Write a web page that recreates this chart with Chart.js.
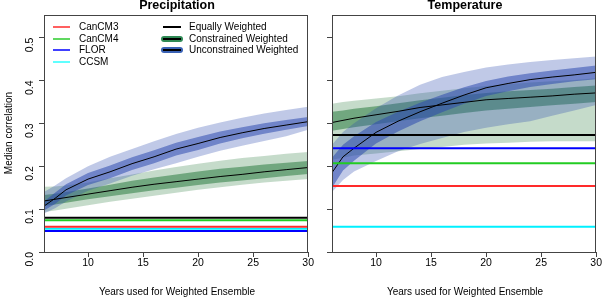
<!DOCTYPE html>
<html>
<head>
<meta charset="utf-8">
<script src="https://cdn.jsdelivr.net/npm/chart.js@4.4.1/dist/chart.umd.min.js"></script>
<style>
body{margin:0;background:#fff;font-family:"Liberation Sans",Arial,sans-serif;}
#wrap{position:relative;width:602px;height:298px;overflow:hidden;}
canvas{position:absolute;top:0;}
.t{position:absolute;white-space:nowrap;color:#000;}
.ttl{font-size:12.5px;font-weight:bold;line-height:14px;top:-2px;transform:translateX(-50%);}
.xl{font-size:10px;line-height:12px;top:286px;transform:translateX(-50%);}
.leg{font-size:10px;line-height:12px;}
.sw{position:absolute;}
</style>
</head>
<body>
<div id="wrap">
<canvas id="c1" width="314" height="298" style="left:0px"></canvas>
<canvas id="c2" width="314" height="298" style="left:288px"></canvas>

<div class="t ttl" style="left:177px">Precipitation</div>
<div class="t ttl" style="left:465px">Temperature</div>
<div class="t xl" style="left:177px">Years used for Weighted Ensemble</div>
<div class="t xl" style="left:465px">Years used for Weighted Ensemble</div>
<div class="t" style="font-size:10px;left:8px;top:133px;transform:translate(-50%,-50%) rotate(-90deg);">Median correlation</div>

<div id="legend"></div>
</div>

<script>
// years on the x axis
const years = [6,7,8,10,12,14,16,18,20,22,24,26,28,30];
const xTicks = [10,15,20,25,30];
const yTicks = [0,0.1,0.2,0.3,0.4,0.5];

// single models (flat lines)
const models = ['CanCM3','CanCM4','FLOR','CCSM'];
const modelColors = ['#ff2a2a','#22cc22','#0000ff','#00f0ff'];
const legendColors = ['#ff6060','#60d860','#4040ff','#60ffff'];
const precipModels = [0.059,0.074,0.049,0.054];
const tempModels = [0.154,0.207,0.242,0.059];
const precipEqual = 0.080;
const tempEqual = 0.273;

// precipitation - constrained weighted
const pConMed   = [0.119,0.123,0.127,0.135,0.143,0.151,0.158,0.164,0.170,0.176,0.181,0.187,0.192,0.197];
const pConOutHi = [0.152,0.153,0.155,0.162,0.172,0.181,0.190,0.198,0.206,0.213,0.219,0.224,0.229,0.233];
const pConInHi  = [0.133,0.136,0.140,0.148,0.157,0.166,0.174,0.181,0.188,0.194,0.199,0.204,0.208,0.212];
const pConInLo  = [0.107,0.111,0.115,0.123,0.130,0.137,0.144,0.150,0.156,0.162,0.167,0.172,0.177,0.182];
const pConOutLo = [0.093,0.097,0.101,0.109,0.117,0.124,0.131,0.138,0.145,0.151,0.157,0.162,0.166,0.170];
// precipitation - unconstrained weighted
const pUncMed   = [0.107,0.125,0.145,0.170,0.187,0.206,0.222,0.240,0.253,0.267,0.278,0.288,0.296,0.304];
const pUncOutHi = [0.140,0.155,0.172,0.200,0.222,0.240,0.258,0.275,0.290,0.302,0.313,0.323,0.331,0.339];
const pUncInHi  = [0.118,0.138,0.158,0.184,0.202,0.221,0.237,0.255,0.268,0.281,0.291,0.300,0.308,0.315];
const pUncInLo  = [0.097,0.112,0.132,0.156,0.172,0.191,0.207,0.225,0.238,0.253,0.265,0.276,0.285,0.294];
const pUncOutLo = [0.090,0.102,0.118,0.143,0.160,0.178,0.193,0.207,0.222,0.236,0.248,0.259,0.270,0.285];

// temperature - constrained weighted
const tConMed   = [0.302,0.307,0.312,0.320,0.328,0.337,0.343,0.349,0.355,0.358,0.361,0.364,0.368,0.371];
const tConOutHi = [0.346,0.350,0.353,0.358,0.363,0.370,0.376,0.382,0.387,0.391,0.395,0.398,0.401,0.405];
const tConInHi  = [0.327,0.330,0.334,0.340,0.347,0.354,0.360,0.366,0.371,0.375,0.378,0.381,0.385,0.388];
const tConInLo  = [0.283,0.287,0.291,0.298,0.305,0.312,0.318,0.324,0.330,0.334,0.338,0.342,0.346,0.350];
const tConOutLo = [0.215,0.220,0.225,0.230,0.235,0.240,0.245,0.250,0.253,0.255,0.257,0.258,0.258,0.258];
// temperature - unconstrained weighted
const tUncMed   = [0.185,0.222,0.242,0.279,0.305,0.327,0.347,0.366,0.383,0.393,0.402,0.408,0.413,0.419];
const tUncOutHi = [0.250,0.280,0.300,0.335,0.365,0.390,0.408,0.420,0.430,0.437,0.443,0.448,0.452,0.456];
const tUncInHi  = [0.220,0.250,0.270,0.303,0.327,0.348,0.367,0.384,0.399,0.409,0.417,0.423,0.429,0.435];
const tUncInLo  = [0.150,0.190,0.213,0.253,0.281,0.305,0.326,0.346,0.364,0.375,0.385,0.392,0.398,0.403];
const tUncOutLo = [0.140,0.168,0.188,0.212,0.235,0.252,0.266,0.280,0.290,0.298,0.305,0.318,0.330,0.343];

const greenOut = 'rgba(45,125,65,0.28)';
const greenIn  = 'rgba(45,125,65,0.55)';
const blueOut  = 'rgba(45,75,175,0.30)';
const blueIn   = 'rgba(45,75,175,0.55)';

Chart.defaults.font.family = '"Liberation Sans", Arial, sans-serif';
Chart.defaults.font.size = 10;
Chart.defaults.color = '#000';

function pts(vals){ return years.map((x,i)=>({x:x,y:vals[i]})); }
function flat(v){ return [{x:6,y:v},{x:30,y:v}]; }

function buildSets(eq, mods, con, unc){
  let ds = [];
  // lines on top first (index 0 drawn last)
  ds.push({data:flat(eq),borderColor:'#000',borderWidth:2,order:0});
  mods.forEach((v,i)=>ds.push({data:flat(v),borderColor:modelColors[i],borderWidth:2,order:1}));
  ds.push({data:pts(unc[0]),borderColor:'#000',borderWidth:1,order:2});
  ds.push({data:pts(con[0]),borderColor:'#000',borderWidth:1,order:3});
  // bands: [hi, lo] pairs
  function band(hi, lo, col, ord){
    let n = ds.length;
    ds.push({data:pts(hi),borderWidth:0,backgroundColor:col,fill:n+1,order:ord});
    ds.push({data:pts(lo),borderWidth:0,fill:false,order:ord});
  }
  band(unc[3], unc[4], blueIn, 10);
  band(unc[1], unc[2], blueOut, 11);
  band(con[3], con[4], greenIn, 12);
  band(con[1], con[2], greenOut, 13);
  return ds;
}

const boxPlugin = {
  id:'box',
  afterDraw(chart){
    const a = chart.chartArea, c = chart.ctx;
    c.save();
    c.strokeStyle = '#444';
    c.lineWidth = 1;
    c.strokeRect(Math.round(a.left)+0.5, Math.round(a.top)+0.5, Math.round(a.right-a.left)-1, Math.round(a.bottom-a.top));
    c.restore();
  }
};

function makeChart(id, sets, showY){
  return new Chart(document.getElementById(id), {
    type:'line',
    data:{datasets:sets},
    options:{
      responsive:false,
      animation:false,
      layout:{padding:{top:15,right:showY?4:5,left:0,bottom:0}},
      elements:{point:{radius:0},line:{tension:0}},
      plugins:{legend:{display:false},tooltip:{enabled:false},title:{display:false}},
      scales:{
        x:{
          type:'linear',min:6,max:30,
          border:{display:false},
          grid:{drawOnChartArea:false,drawTicks:true,tickLength:5,color:'#444'},
          ticks:{padding:0,maxRotation:0,font:{size:10.5},callback:v=>String(v)},
          afterBuildTicks:s=>{s.ticks = xTicks.map(v=>({value:v}));},
          afterFit:s=>{s.height = 46;}
        },
        y:{
          type:'linear',min:0,max:0.552,
          border:{display:false},
          grid:{drawOnChartArea:false,drawTicks:true,tickLength:5,color:'#444'},
          ticks:{padding:9,minRotation:90,maxRotation:90,font:{size:10.5},callback:v=>showY?v.toFixed(1):''},
          afterBuildTicks:s=>{s.ticks = yTicks.map(v=>({value:v}));},
          afterFit:s=>{s.width = 44;}
        }
      }
    },
    plugins:[boxPlugin]
  });
}

makeChart('c1', buildSets(precipEqual, precipModels,
  [pConMed,pConOutHi,pConOutLo,pConInHi,pConInLo],
  [pUncMed,pUncOutHi,pUncOutLo,pUncInHi,pUncInLo]), true);
makeChart('c2', buildSets(tempEqual, tempModels,
  [tConMed,tConOutHi,tConOutLo,tConInHi,tConInLo],
  [tUncMed,tUncOutHi,tUncOutLo,tUncInHi,tUncInLo]), false);

// legend
const leg = document.getElementById('legend');
const rowY = [27,39,50,62];
models.forEach((m,i)=>{
  leg.innerHTML += '<div class="sw" style="left:53px;top:'+(rowY[i]-1)+'px;width:17px;height:2px;background:'+legendColors[i]+'"></div>'
    + '<div class="t leg" style="left:79px;top:'+(rowY[i]-6)+'px">'+m+'</div>';
});
const legB = [['Equally Weighted',null],['Constrained Weighted','#2f8a55'],['Unconstrained Weighted','#3a62b5']];
legB.forEach((r,i)=>{
  let y = rowY[i];
  if(r[1]) leg.innerHTML += '<div class="sw" style="left:161px;top:'+(y-3)+'px;width:22px;height:6px;border-radius:3px;background:'+r[1]+'"></div>';
  leg.innerHTML += '<div class="sw" style="left:163px;top:'+(y-1)+'px;width:18px;height:2px;background:#000"></div>'
    + '<div class="t leg" style="left:189px;top:'+(y-6)+'px">'+r[0]+'</div>';
});
</script>
</body>
</html>
